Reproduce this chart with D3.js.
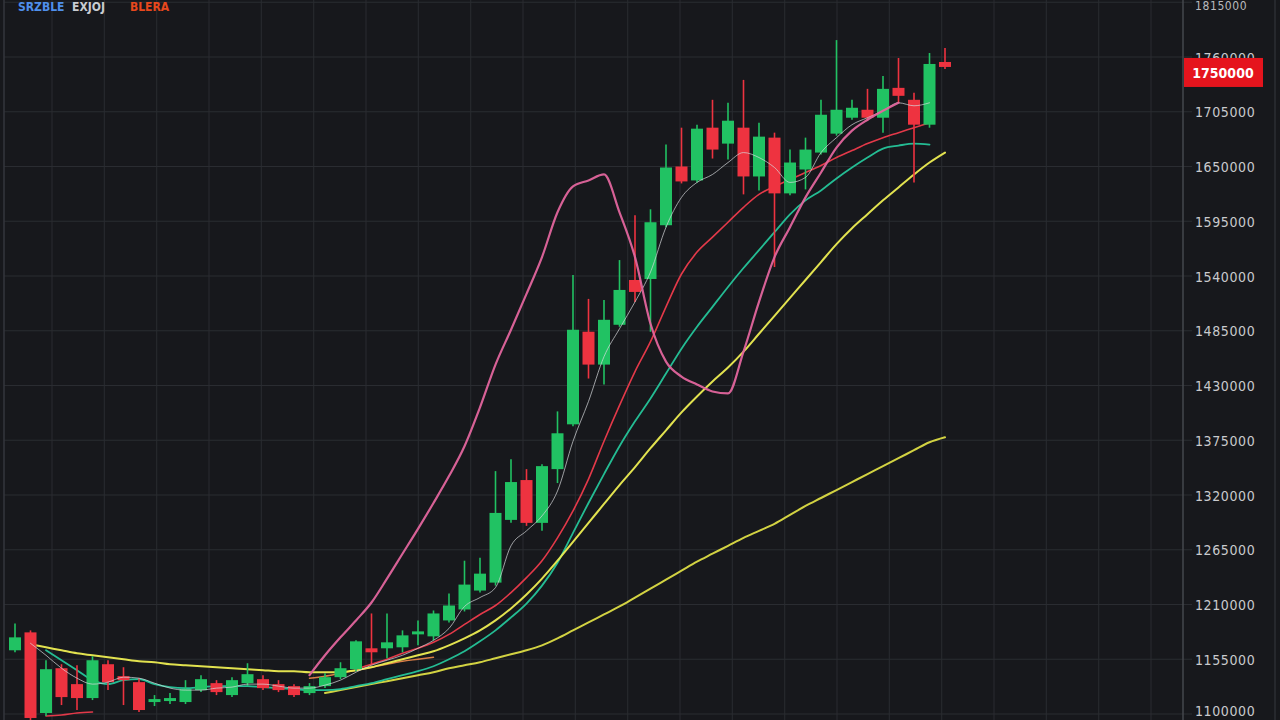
<!DOCTYPE html>
<html><head><meta charset="utf-8">
<script src="https://cdn.jsdelivr.net/npm/d3@7"></script>
<style>html,body{margin:0;padding:0;background:#17181c;overflow:hidden}</style>
</head><body><svg id="chart" width="1280" height="720"></svg>
<script>
// ---------- DATA ----------
const categories = d3.range(61).map(i => "C" + (i + 1));
const opens = [1164,1182,1101,1146,1130,1116,1150,1138,1132,1112,
  1113,1112,1124,1131,1119,1131,1135,1130,1128,1121,
  1128,1137,1145,1166,1166,1167,1180,1178,1194,1205,
  1224,1232,1295,1335,1292,1346,1391,1484,1451,1491,
  1536,1537,1591,1650,1636,1689,1673,1689,1640,1679,
  1623,1647,1664,1683,1699,1707,1699,1729,1717,1692,1755];
const closes = [1177,1096,1145,1117,1116,1154,1132,1134,1104,1115,
  1116,1125,1135,1122,1134,1140,1126,1124,1119,1128,
  1137,1146,1173,1162,1172,1179,1183,1201,1209,1230,
  1241,1302,1333,1292,1349,1382,1486,1451,1496,1526,
  1524,1594,1649,1635,1688,1667,1696,1640,1680,1623,
  1654,1667,1702,1707,1709,1699,1728,1721,1692,1753,1750];
const highs = [1191,1184,1154,1150,1149,1158,1154,1147,1136,1119,
  1121,1134,1139,1134,1137,1151,1139,1134,1130,1131,
  1141,1152,1174,1201,1201,1184,1194,1204,1221,1254,
  1257,1344,1356,1346,1351,1404,1541,1517,1516,1556,
  1601,1607,1672,1689,1692,1717,1714,1737,1694,1684,
  1667,1679,1717,1777,1717,1728,1741,1759,1724,1764,1769];
const lows = [1162,1094,1098,1109,1104,1114,1124,1109,1102,1108,
  1110,1110,1122,1119,1117,1128,1124,1122,1117,1119,
  1126,1135,1143,1149,1156,1162,1169,1174,1192,1203,
  1222,1229,1292,1289,1284,1332,1389,1437,1431,1489,
  1514,1484,1589,1633,1634,1658,1657,1622,1626,1549,
  1621,1627,1662,1681,1697,1696,1684,1714,1634,1689,1748];

const _ = null;
const maShort = [_,1171,1159,1146,1136,1130,1132,1137,1136,1131,
  1126,1124,1124,1126,1127,1130,1130,1128,1126,1126,
  1129,1134,1142,1149,1154,1159,1166,1174,1186,1208,
  1217,1227,1269,1284,1299,1324,1374,1414,1459,1487,
  1514,1544,1589,1619,1634,1642,1654,1664,1659,1649,
  1634,1639,1664,1679,1692,1699,1706,1714,1711,1714,_];
const maPink = [_,_,_,_,_,_,_,_,_,_,
  _,_,_,_,_,_,_,_,_,1139,
  1159,1177,1194,1212,1236,1261,1286,1312,1339,1369,
  1408,1451,1486,1522,1559,1604,1630,1636,1642,1604,
  1559,1492,1454,1439,1431,1424,1422,1464,1514,1559,
  1589,1619,1644,1669,1686,1697,1706,1714,_,_,_];
const maRed = [_,_,1098,1099,1101,1102,_,_,_,_,
  _,_,_,_,_,_,_,_,_,_,
  _,_,1145,1150,1155,1161,1166,1172,1180,1190,
  1200,1209,1222,1237,1254,1277,1304,1336,1374,1410,
  1444,1474,1509,1542,1564,1579,1594,1609,1622,1630,
  1637,1644,1651,1659,1666,1673,1679,1684,1689,1694,_];
const maTeal = [_,_,1164,1154,1144,1134,1130,1134,1135,1130,
  1127,1126,1127,1128,1128,1128,1127,1126,1125,1124,
  1124,1125,1128,1131,1135,1139,1143,1148,1155,1163,
  1173,1184,1197,1211,1229,1252,1282,1312,1341,1369,
  1394,1417,1442,1467,1489,1509,1529,1548,1566,1584,
  1602,1616,1626,1638,1649,1659,1668,1671,1673,1672,_];
const maYellow = [_,1170,1167,1164,1161,1159,1157,1155,1153,1152,
  1150,1149,1148,1147,1146,1145,1144,1143,1143,1142,
  1142,1142,1144,1147,1151,1155,1159,1163,1169,1176,
  1184,1194,1206,1220,1236,1254,1273,1292,1311,1330,
  1348,1367,1385,1403,1419,1434,1448,1464,1482,1500,
  1518,1536,1554,1572,1588,1602,1616,1629,1642,1654,1664];
const maYellowSlow = [_,_,_,_,_,_,_,_,_,_,
  _,_,_,_,_,_,_,_,_,_,
  1121,1124,1127,1130,1133,1136,1139,1142,1146,1149,
  1152,1156,1160,1164,1169,1176,1184,1192,1200,1208,
  1217,1226,1235,1244,1253,1261,1269,1277,1284,1291,
  1300,1309,1317,1325,1333,1341,1349,1357,1365,1373,1378];
const maOrange = [_,_,_,_,_,_,_,_,_,_,
  _,_,_,_,_,_,_,_,_,1136,
  1138,1141,1144,1147,1150,1153,1155,1157,_,_,
  _,_,_,_,_,_,_,_,_,_,
  _,_,_,_,_,_,_,_,_,_,
  _,_,_,_,_,_,_,_,_,_,_];

const tickValues = [1100,1155,1210,1265,1320,1375,1430,1485,1540,1595,1650,1705,1760,1815];
const legendLabels = ["SRZBLE", "EXJOJ", "BLERA"];

// ---------- CHART ----------
const svg = d3.select("#chart");
const W = 1280, H = 720;
const axisX = 1183;

svg.append("rect").attr("width", W).attr("height", H).attr("fill", "#17181c");

const x = d3.scalePoint().domain(categories).range([15, 945]);
const y = d3.scaleLinear().domain([1100, 1760]).range([714, 57]);
const gridX = d3.scaleLinear().domain([0, 21]).range([52, 1151]);

// grid
const grid = svg.append("g");
grid.selectAll("line.v").data(d3.range(22)).join("line")
  .attr("x1", d => gridX(d)).attr("x2", d => gridX(d))
  .attr("y1", 0).attr("y2", H)
  .attr("stroke", "#27292e").attr("stroke-width", 1.2);
grid.selectAll("line.h").data(tickValues).join("line")
  .attr("x1", 4).attr("x2", axisX + 9)
  .attr("y1", d => y(d)).attr("y2", d => y(d))
  .attr("stroke", "#2a2c31").attr("stroke-width", 1.2);

// frame lines
svg.append("line").attr("x1", 4).attr("x2", 4).attr("y1", 0).attr("y2", H)
  .attr("stroke", "#34363c").attr("stroke-width", 1.5);
svg.append("line").attr("x1", axisX).attr("x2", axisX).attr("y1", 0).attr("y2", H)
  .attr("stroke", "#45474d").attr("stroke-width", 1.5);
svg.append("line").attr("x1", 1275).attr("x2", 1275).attr("y1", 0).attr("y2", H)
  .attr("stroke", "#2c2e33").attr("stroke-width", 1.5);

// y axis labels
const yAxis = d3.axisRight(y).tickValues(tickValues).tickSize(0).tickPadding(0)
  .tickFormat(d => d3.format("d")(d * 1000));
const ga = svg.append("g").attr("transform", `translate(${axisX + 12},0)`).call(yAxis);
ga.select(".domain").remove();
ga.selectAll("text").attr("fill", "#c9cacd").attr("font-family", "DejaVu Sans Condensed, Liberation Sans, sans-serif")
  .attr("font-size", 14).attr("letter-spacing", 0.6).attr("dy", "0.36em");
ga.selectAll(".tick").filter(d => d === 1815).select("text").attr("dy", "0.6em").attr("font-size", 12).attr("fill", "#b9babd");
ga.selectAll(".tick").filter(d => d === 1100).select("text").attr("dy", "0.1em");

// moving average lines
const lineGen = d3.line()
  .defined(d => d.v != null)
  .x(d => x(d.c)).y(d => y(d.v))
  .curve(d3.curveMonotoneX);
function drawLine(arr, color, width, opacity) {
  const pts = arr.map((v, i) => ({ c: categories[i], v }));
  svg.append("path").datum(pts).attr("d", lineGen)
    .attr("fill", "none").attr("stroke", color)
    .attr("stroke-width", width).attr("stroke-opacity", opacity)
    .attr("stroke-linejoin", "round").attr("stroke-linecap", "round");
}
drawLine(maYellowSlow, "#dcdc45", 2, 0.95);
drawLine(maOrange, "#f08a4b", 1.5, 0.9);
drawLine(maTeal, "#25c59a", 1.8, 0.95);
drawLine(maYellow, "#eded52", 2, 0.95);
drawLine(maRed, "#ee3b4c", 1.6, 0.95);

// candles
const cw = 12;
const candles = svg.append("g");
const data = categories.map((c, i) => ({ c, o: opens[i], cl: closes[i], h: highs[i], l: lows[i] }));
const col = d => d.cl >= d.o ? "#21c263" : "#ee3340";
candles.selectAll("line").data(data).join("line")
  .attr("x1", d => x(d.c)).attr("x2", d => x(d.c))
  .attr("y1", d => y(d.h)).attr("y2", d => y(d.l))
  .attr("stroke", col).attr("stroke-width", 1.6);
candles.selectAll("rect").data(data).join("rect")
  .attr("x", d => x(d.c) - cw / 2).attr("width", cw)
  .attr("y", d => y(Math.max(d.o, d.cl)))
  .attr("height", d => Math.max(2, Math.abs(y(d.o) - y(d.cl))))
  .attr("fill", col);

drawLine(maShort, "#d5d9dc", 1, 0.7);
drawLine(maPink, "#e2659d", 2.2, 0.95);

// last price tag
const last = data[data.length - 1];
const ty = y(last.cl) - 9;
svg.append("rect").attr("x", axisX + 1).attr("y", ty).attr("width", 79).attr("height", 29)
  .attr("fill", "#e5141d");
svg.append("text").attr("x", axisX + 40).attr("y", ty + 15).attr("dy", "0.36em")
  .attr("text-anchor", "middle").attr("fill", "#ffffff").attr("font-weight", "bold")
  .attr("font-family", "DejaVu Sans Condensed, Liberation Sans, sans-serif").attr("font-size", 14)
  .text(d3.format("d")(last.cl * 1000));

// legend at top left
const legendColors = ["#4f8fea", "#c9ccd1", "#e8481d"];
const legendX = [18, 72, 130];
svg.selectAll("text.legend").data(legendLabels).join("text")
  .attr("class", "legend")
  .attr("x", (d, i) => legendX[i]).attr("y", 11)
  .attr("fill", (d, i) => legendColors[i])
  .attr("font-family", "DejaVu Sans Condensed, Liberation Sans, sans-serif")
  .attr("font-weight", "bold").attr("font-size", 12)
  .text(d => d);
</script></body></html>
